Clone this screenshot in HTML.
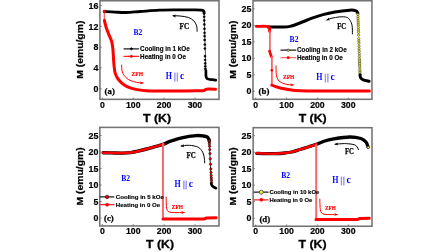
<!DOCTYPE html>
<html><head><meta charset="utf-8"><style>
html,body{margin:0;padding:0;background:#fff;}
body{width:448px;height:252px;overflow:hidden;}
svg{display:block;filter:blur(0.3px);}
</style></head><body>
<svg width="448" height="252" viewBox="0 0 448 252">
<rect x="99.95" y="0.75" width="119.05" height="98.60" fill="none" stroke="#737373" stroke-width="1.55"/>
<line x1="102.40" y1="99.35" x2="102.40" y2="97.55" stroke="#737373" stroke-width="0.9"/>
<text x="102.40" y="107.5" font-family="'Liberation Sans', Arial, sans-serif" font-weight="bold" font-style="normal" font-size="8.7" fill="#000" text-anchor="middle" stroke="#000" stroke-width="0.2">0</text>
<line x1="133.25" y1="99.35" x2="133.25" y2="97.55" stroke="#737373" stroke-width="0.9"/>
<text x="133.25" y="107.5" font-family="'Liberation Sans', Arial, sans-serif" font-weight="bold" font-style="normal" font-size="8.7" fill="#000" text-anchor="middle" stroke="#000" stroke-width="0.2">100</text>
<line x1="164.10" y1="99.35" x2="164.10" y2="97.55" stroke="#737373" stroke-width="0.9"/>
<text x="164.10" y="107.5" font-family="'Liberation Sans', Arial, sans-serif" font-weight="bold" font-style="normal" font-size="8.7" fill="#000" text-anchor="middle" stroke="#000" stroke-width="0.2">200</text>
<line x1="194.95" y1="99.35" x2="194.95" y2="97.55" stroke="#737373" stroke-width="0.9"/>
<text x="194.95" y="107.5" font-family="'Liberation Sans', Arial, sans-serif" font-weight="bold" font-style="normal" font-size="8.7" fill="#000" text-anchor="middle" stroke="#000" stroke-width="0.2">300</text>
<line x1="99.95" y1="88.80" x2="101.75" y2="88.80" stroke="#737373" stroke-width="0.9"/>
<text x="98.4" y="91.90" font-family="'Liberation Sans', Arial, sans-serif" font-weight="bold" font-style="normal" font-size="9.5" fill="#000" text-anchor="end" textLength="4.95" lengthAdjust="spacingAndGlyphs" stroke="#000" stroke-width="0.2">0</text>
<line x1="99.95" y1="68.00" x2="101.75" y2="68.00" stroke="#737373" stroke-width="0.9"/>
<text x="98.4" y="71.10" font-family="'Liberation Sans', Arial, sans-serif" font-weight="bold" font-style="normal" font-size="9.5" fill="#000" text-anchor="end" textLength="4.95" lengthAdjust="spacingAndGlyphs" stroke="#000" stroke-width="0.2">4</text>
<line x1="99.95" y1="47.20" x2="101.75" y2="47.20" stroke="#737373" stroke-width="0.9"/>
<text x="98.4" y="50.30" font-family="'Liberation Sans', Arial, sans-serif" font-weight="bold" font-style="normal" font-size="9.5" fill="#000" text-anchor="end" textLength="4.95" lengthAdjust="spacingAndGlyphs" stroke="#000" stroke-width="0.2">8</text>
<line x1="99.95" y1="26.40" x2="101.75" y2="26.40" stroke="#737373" stroke-width="0.9"/>
<text x="98.4" y="29.50" font-family="'Liberation Sans', Arial, sans-serif" font-weight="bold" font-style="normal" font-size="9.5" fill="#000" text-anchor="end" textLength="9.90" lengthAdjust="spacingAndGlyphs" stroke="#000" stroke-width="0.2">12</text>
<line x1="99.95" y1="5.60" x2="101.75" y2="5.60" stroke="#737373" stroke-width="0.9"/>
<text x="98.4" y="8.70" font-family="'Liberation Sans', Arial, sans-serif" font-weight="bold" font-style="normal" font-size="9.5" fill="#000" text-anchor="end" textLength="9.90" lengthAdjust="spacingAndGlyphs" stroke="#000" stroke-width="0.2">16</text>
<text transform="translate(79.6,49.75) rotate(-90)" x="0" y="3.37" font-family="'Liberation Sans', Arial, sans-serif" font-weight="bold" font-size="9.8" text-anchor="middle" textLength="58.2" lengthAdjust="spacingAndGlyphs" stroke="#000" stroke-width="0.25">M (emu/gm)</text>
<text x="143.0" y="121.6" font-family="'Liberation Sans', Arial, sans-serif" font-weight="bold" font-style="normal" font-size="11.8" fill="#000" text-anchor="start" textLength="28.0" lengthAdjust="spacingAndGlyphs" stroke="#000" stroke-width="0.3">T (K)</text>
<path d="M104.40,11.50 C106.17,11.60 111.40,11.93 115.00,12.10 C118.60,12.27 121.83,12.60 126.00,12.50 C130.17,12.40 134.50,11.90 140.00,11.50 C145.50,11.10 153.17,10.38 159.00,10.10 C164.83,9.82 168.83,9.83 175.00,9.80 C181.17,9.77 191.58,9.83 196.00,9.90 C200.42,9.97 200.27,10.07 201.50,10.20 C202.73,10.33 202.98,10.43 203.40,10.70 C203.82,10.97 203.88,11.38 204.00,11.80 C204.12,12.22 204.08,12.97 204.10,13.20" fill="none" stroke="#000" stroke-width="2.8" stroke-linecap="round" stroke-linejoin="round" />
<path d="M204.10,12.00 L205.90,72.00" fill="none" stroke="#000" stroke-width="0.7" stroke-linecap="round" stroke-linejoin="round" />
<circle cx="204.11" cy="13.50" r="1.15" fill="#000" stroke="#000" stroke-width="0.3"/>
<circle cx="204.18" cy="16.80" r="1.15" fill="#000" stroke="#000" stroke-width="0.3"/>
<circle cx="204.26" cy="20.50" r="1.15" fill="#000" stroke="#000" stroke-width="0.3"/>
<circle cx="204.35" cy="24.50" r="1.15" fill="#000" stroke="#000" stroke-width="0.3"/>
<circle cx="204.44" cy="28.80" r="1.15" fill="#000" stroke="#000" stroke-width="0.3"/>
<circle cx="204.52" cy="32.80" r="1.15" fill="#000" stroke="#000" stroke-width="0.3"/>
<circle cx="204.60" cy="36.20" r="1.15" fill="#000" stroke="#000" stroke-width="0.3"/>
<circle cx="204.68" cy="40.00" r="1.15" fill="#000" stroke="#000" stroke-width="0.3"/>
<circle cx="204.78" cy="44.60" r="1.15" fill="#000" stroke="#000" stroke-width="0.3"/>
<circle cx="204.86" cy="48.60" r="1.15" fill="#000" stroke="#000" stroke-width="0.3"/>
<circle cx="205.03" cy="56.20" r="1.15" fill="#000" stroke="#000" stroke-width="0.3"/>
<circle cx="205.11" cy="59.90" r="1.15" fill="#000" stroke="#000" stroke-width="0.3"/>
<circle cx="205.18" cy="63.40" r="1.15" fill="#000" stroke="#000" stroke-width="0.3"/>
<circle cx="205.24" cy="66.40" r="1.15" fill="#000" stroke="#000" stroke-width="0.3"/>
<circle cx="205.30" cy="68.90" r="1.15" fill="#000" stroke="#000" stroke-width="0.3"/>
<path d="M205.90,70.50 C205.92,71.42 205.85,74.70 206.00,76.00 C206.15,77.30 206.30,77.75 206.80,78.30 C207.30,78.85 208.05,79.07 209.00,79.30 C209.95,79.53 211.37,79.57 212.50,79.70 C213.63,79.83 215.25,80.03 215.80,80.10" fill="none" stroke="#000" stroke-width="2.7" stroke-linecap="round" stroke-linejoin="round" />
<path d="M104.40,11.50 L104.40,20.50" fill="none" stroke="#f46a6a" stroke-width="1.5" stroke-linecap="round" stroke-linejoin="round" />
<circle cx="104.40" cy="11.50" r="1.5" fill="#ff0000" stroke="#ff0000" stroke-width="0.2"/>
<path d="M104.40,20.40 C104.68,21.53 105.38,24.90 106.10,27.20 C106.82,29.50 107.83,32.02 108.70,34.20 C109.57,36.38 110.65,38.27 111.30,40.30 C111.95,42.33 112.30,44.45 112.60,46.40 C112.90,48.35 112.88,49.07 113.10,52.00 C113.32,54.93 113.58,60.58 113.90,64.00 C114.22,67.42 114.45,70.23 115.00,72.50 C115.55,74.77 116.20,75.95 117.20,77.60 C118.20,79.25 119.37,80.90 121.00,82.40 C122.63,83.90 124.55,85.43 127.00,86.60 C129.45,87.77 132.53,88.72 135.70,89.40 C138.87,90.08 141.95,90.45 146.00,90.70 C150.05,90.95 155.00,90.85 160.00,90.90 C165.00,90.95 170.00,91.02 176.00,91.00 C182.00,90.98 191.83,90.83 196.00,90.80 C200.17,90.77 199.75,90.82 201.00,90.80 C202.25,90.78 202.83,90.85 203.50,90.70 C204.17,90.55 204.50,90.15 205.00,89.90 C205.50,89.65 205.67,89.33 206.50,89.20 C207.33,89.07 208.48,89.10 210.00,89.10 C211.52,89.10 214.67,89.18 215.60,89.20" fill="none" stroke="#ff0000" stroke-width="3.0" stroke-linecap="round" stroke-linejoin="round" />
<path d="M121.60,65.00 C121.68,66.02 121.65,69.33 122.10,71.10 C122.55,72.87 123.28,74.22 124.30,75.60 C125.32,76.98 126.62,78.38 128.20,79.40 C129.78,80.42 131.95,81.13 133.80,81.70 C135.65,82.27 137.78,82.60 139.30,82.80 C140.82,83.00 142.30,82.88 142.90,82.90" fill="none" stroke="#ff0000" stroke-width="1.0" stroke-linecap="round" stroke-linejoin="round" />
<path d="M143.80,82.92 L139.96,84.32 L140.90,82.84 L140.04,81.32 Z" fill="#ff0000"/>
<path d="M197.10,31.30 C197.02,30.38 197.15,27.55 196.60,25.80 C196.05,24.05 195.20,22.20 193.80,20.80 C192.40,19.40 190.50,18.20 188.20,17.40 C185.90,16.60 182.52,16.27 180.00,16.00 C177.48,15.73 174.25,15.83 173.10,15.80" fill="none" stroke="#000" stroke-width="1.0" stroke-linecap="round" stroke-linejoin="round" />
<path d="M172.20,15.77 L176.04,14.38 L175.10,15.86 L175.96,17.38 Z" fill="#000"/>
<path d="M124.00,48.80 L138.60,48.80" fill="none" stroke="#1e1e1e" stroke-width="1.25" stroke-linecap="round" stroke-linejoin="round" />
<circle cx="131.40" cy="48.80" r="1.05" fill="#000" stroke="#000" stroke-width="0.65"/>
<path d="M124.00,56.40 L138.60,56.40" fill="none" stroke="#ff2020" stroke-width="1.25" stroke-linecap="round" stroke-linejoin="round" />
<circle cx="131.40" cy="56.40" r="1.3" fill="#ff0000" stroke="#ff0000" stroke-width="0.2"/>
<text x="140.1" y="50.8" font-family="'Liberation Sans', Arial, sans-serif" font-weight="bold" font-style="normal" font-size="6.3" fill="#000" text-anchor="start" stroke="#000" stroke-width="0.15">Cooling in 1 kOe</text>
<text x="140.1" y="58.5" font-family="'Liberation Sans', Arial, sans-serif" font-weight="bold" font-style="normal" font-size="6.3" fill="#000" text-anchor="start" stroke="#000" stroke-width="0.15">Heating in 0 Oe</text>
<text x="133.5" y="34.8" font-family="'Liberation Serif', 'Times New Roman', serif" font-weight="bold" font-style="normal" font-size="7.6" fill="#0000ff" text-anchor="start" >B2</text>
<text x="165.70" y="78.6" font-family="'Liberation Serif', 'Times New Roman', serif" font-weight="bold" font-style="normal" font-size="9.4" fill="#0000ff" text-anchor="start" textLength="6.2" lengthAdjust="spacingAndGlyphs" >H</text>
<text x="174.12" y="78.60" font-family="'Liberation Serif', 'Times New Roman', serif" font-weight="normal" font-size="8.8" fill="#0000ff" stroke="#0000ff" stroke-width="0.9" opacity="0.42" letter-spacing="0.64">||</text>
<text x="180.00" y="78.6" font-family="'Liberation Serif', 'Times New Roman', serif" font-weight="bold" font-style="normal" font-size="9.6" fill="#0000ff" text-anchor="start" >c</text>
<text x="131.5" y="75.8" font-family="'Liberation Serif', 'Times New Roman', serif" font-weight="bold" font-style="normal" font-size="7.0" fill="#ff0000" text-anchor="start" textLength="11.6" lengthAdjust="spacingAndGlyphs" stroke="#f00" stroke-width="0.15">ZFH</text>
<text x="179.6" y="28.9" font-family="'Liberation Serif', 'Times New Roman', serif" font-weight="bold" font-style="normal" font-size="7.5" fill="#000" text-anchor="start" textLength="9.4" lengthAdjust="spacingAndGlyphs" stroke="#000" stroke-width="0.25">FC</text>
<text x="104.6" y="94.1" font-family="'Liberation Serif', 'Times New Roman', serif" font-weight="bold" font-style="normal" font-size="8.8" fill="#000" text-anchor="start" stroke="#000" stroke-width="0.25">(a)</text>
<rect x="253.0" y="0.75" width="118.95" height="98.55" fill="none" stroke="#737373" stroke-width="1.55"/>
<line x1="255.70" y1="99.3" x2="255.70" y2="97.5" stroke="#737373" stroke-width="0.9"/>
<text x="255.70" y="107.5" font-family="'Liberation Sans', Arial, sans-serif" font-weight="bold" font-style="normal" font-size="8.7" fill="#000" text-anchor="middle" stroke="#000" stroke-width="0.2">0</text>
<line x1="286.55" y1="99.3" x2="286.55" y2="97.5" stroke="#737373" stroke-width="0.9"/>
<text x="286.55" y="107.5" font-family="'Liberation Sans', Arial, sans-serif" font-weight="bold" font-style="normal" font-size="8.7" fill="#000" text-anchor="middle" stroke="#000" stroke-width="0.2">100</text>
<line x1="317.40" y1="99.3" x2="317.40" y2="97.5" stroke="#737373" stroke-width="0.9"/>
<text x="317.40" y="107.5" font-family="'Liberation Sans', Arial, sans-serif" font-weight="bold" font-style="normal" font-size="8.7" fill="#000" text-anchor="middle" stroke="#000" stroke-width="0.2">200</text>
<line x1="348.25" y1="99.3" x2="348.25" y2="97.5" stroke="#737373" stroke-width="0.9"/>
<text x="348.25" y="107.5" font-family="'Liberation Sans', Arial, sans-serif" font-weight="bold" font-style="normal" font-size="8.7" fill="#000" text-anchor="middle" stroke="#000" stroke-width="0.2">300</text>
<line x1="253.0" y1="91.30" x2="254.8" y2="91.30" stroke="#737373" stroke-width="0.9"/>
<text x="251.4" y="94.40" font-family="'Liberation Sans', Arial, sans-serif" font-weight="bold" font-style="normal" font-size="9.5" fill="#000" text-anchor="end" textLength="4.95" lengthAdjust="spacingAndGlyphs" stroke="#000" stroke-width="0.2">0</text>
<line x1="253.0" y1="74.80" x2="254.8" y2="74.80" stroke="#737373" stroke-width="0.9"/>
<text x="251.4" y="77.90" font-family="'Liberation Sans', Arial, sans-serif" font-weight="bold" font-style="normal" font-size="9.5" fill="#000" text-anchor="end" textLength="4.95" lengthAdjust="spacingAndGlyphs" stroke="#000" stroke-width="0.2">5</text>
<line x1="253.0" y1="58.30" x2="254.8" y2="58.30" stroke="#737373" stroke-width="0.9"/>
<text x="251.4" y="61.40" font-family="'Liberation Sans', Arial, sans-serif" font-weight="bold" font-style="normal" font-size="9.5" fill="#000" text-anchor="end" textLength="9.90" lengthAdjust="spacingAndGlyphs" stroke="#000" stroke-width="0.2">10</text>
<line x1="253.0" y1="41.80" x2="254.8" y2="41.80" stroke="#737373" stroke-width="0.9"/>
<text x="251.4" y="44.90" font-family="'Liberation Sans', Arial, sans-serif" font-weight="bold" font-style="normal" font-size="9.5" fill="#000" text-anchor="end" textLength="9.90" lengthAdjust="spacingAndGlyphs" stroke="#000" stroke-width="0.2">15</text>
<line x1="253.0" y1="25.30" x2="254.8" y2="25.30" stroke="#737373" stroke-width="0.9"/>
<text x="251.4" y="28.40" font-family="'Liberation Sans', Arial, sans-serif" font-weight="bold" font-style="normal" font-size="9.5" fill="#000" text-anchor="end" textLength="9.90" lengthAdjust="spacingAndGlyphs" stroke="#000" stroke-width="0.2">20</text>
<line x1="253.0" y1="8.80" x2="254.8" y2="8.80" stroke="#737373" stroke-width="0.9"/>
<text x="251.4" y="11.90" font-family="'Liberation Sans', Arial, sans-serif" font-weight="bold" font-style="normal" font-size="9.5" fill="#000" text-anchor="end" textLength="9.90" lengthAdjust="spacingAndGlyphs" stroke="#000" stroke-width="0.2">25</text>
<text transform="translate(232.85,49.75) rotate(-90)" x="0" y="3.37" font-family="'Liberation Sans', Arial, sans-serif" font-weight="bold" font-size="9.8" text-anchor="middle" textLength="58.2" lengthAdjust="spacingAndGlyphs" stroke="#000" stroke-width="0.25">M (emu/gm)</text>
<text x="298.7" y="121.6" font-family="'Liberation Sans', Arial, sans-serif" font-weight="bold" font-style="normal" font-size="11.8" fill="#000" text-anchor="start" textLength="28.0" lengthAdjust="spacingAndGlyphs" stroke="#000" stroke-width="0.3">T (K)</text>
<path d="M268.00,26.90 C270.28,26.92 278.03,27.08 281.70,27.00 C285.37,26.92 286.95,27.07 290.00,26.40 C293.05,25.73 296.33,24.37 300.00,23.00 C303.67,21.63 308.17,19.60 312.00,18.20 C315.83,16.80 319.17,15.63 323.00,14.60 C326.83,13.57 330.55,12.73 335.00,12.00 C339.45,11.27 346.45,10.47 349.70,10.20 C352.95,9.93 353.30,10.22 354.50,10.40 C355.70,10.58 356.33,10.80 356.90,11.30 C357.47,11.80 357.73,13.05 357.90,13.40" fill="none" stroke="#000" stroke-width="3.0" stroke-linecap="round" stroke-linejoin="round" />
<circle cx="357.91" cy="14.40" r="1.2" fill="#f5ea3c" stroke="#1a1a1a" stroke-width="0.45"/>
<circle cx="357.99" cy="16.60" r="1.2" fill="#f5ea3c" stroke="#1a1a1a" stroke-width="0.45"/>
<circle cx="358.06" cy="18.70" r="1.2" fill="#f5ea3c" stroke="#1a1a1a" stroke-width="0.45"/>
<circle cx="358.14" cy="20.90" r="1.2" fill="#f5ea3c" stroke="#1a1a1a" stroke-width="0.45"/>
<circle cx="358.21" cy="23.00" r="1.2" fill="#f5ea3c" stroke="#1a1a1a" stroke-width="0.45"/>
<circle cx="358.28" cy="25.10" r="1.2" fill="#f5ea3c" stroke="#1a1a1a" stroke-width="0.45"/>
<circle cx="358.37" cy="27.60" r="1.2" fill="#f5ea3c" stroke="#1a1a1a" stroke-width="0.45"/>
<circle cx="358.45" cy="30.10" r="1.2" fill="#f5ea3c" stroke="#1a1a1a" stroke-width="0.45"/>
<circle cx="358.53" cy="32.30" r="1.2" fill="#f5ea3c" stroke="#1a1a1a" stroke-width="0.45"/>
<circle cx="358.63" cy="35.10" r="1.2" fill="#f5ea3c" stroke="#1a1a1a" stroke-width="0.45"/>
<circle cx="358.75" cy="38.70" r="1.2" fill="#f5ea3c" stroke="#1a1a1a" stroke-width="0.45"/>
<circle cx="358.83" cy="41.00" r="1.2" fill="#f5ea3c" stroke="#1a1a1a" stroke-width="0.45"/>
<circle cx="358.91" cy="43.30" r="1.2" fill="#f5ea3c" stroke="#1a1a1a" stroke-width="0.45"/>
<circle cx="359.01" cy="46.20" r="1.2" fill="#f5ea3c" stroke="#1a1a1a" stroke-width="0.45"/>
<circle cx="359.09" cy="48.70" r="1.2" fill="#f5ea3c" stroke="#1a1a1a" stroke-width="0.45"/>
<circle cx="359.18" cy="51.20" r="1.2" fill="#f5ea3c" stroke="#1a1a1a" stroke-width="0.45"/>
<circle cx="359.27" cy="53.70" r="1.2" fill="#f5ea3c" stroke="#1a1a1a" stroke-width="0.45"/>
<circle cx="359.35" cy="56.20" r="1.2" fill="#f5ea3c" stroke="#1a1a1a" stroke-width="0.45"/>
<circle cx="359.44" cy="58.70" r="1.2" fill="#f5ea3c" stroke="#1a1a1a" stroke-width="0.45"/>
<circle cx="359.49" cy="60.30" r="1.2" fill="#f5ea3c" stroke="#1a1a1a" stroke-width="0.45"/>
<circle cx="359.55" cy="62.00" r="1.2" fill="#f5ea3c" stroke="#1a1a1a" stroke-width="0.45"/>
<circle cx="359.61" cy="63.70" r="1.2" fill="#f5ea3c" stroke="#1a1a1a" stroke-width="0.45"/>
<circle cx="359.67" cy="65.30" r="1.2" fill="#f5ea3c" stroke="#1a1a1a" stroke-width="0.45"/>
<circle cx="359.72" cy="67.00" r="1.2" fill="#f5ea3c" stroke="#1a1a1a" stroke-width="0.45"/>
<circle cx="359.81" cy="69.50" r="1.2" fill="#f5ea3c" stroke="#1a1a1a" stroke-width="0.45"/>
<circle cx="359.87" cy="71.20" r="1.2" fill="#f5ea3c" stroke="#1a1a1a" stroke-width="0.45"/>
<circle cx="359.92" cy="72.80" r="1.2" fill="#f5ea3c" stroke="#1a1a1a" stroke-width="0.45"/>
<circle cx="359.98" cy="74.50" r="1.2" fill="#f5ea3c" stroke="#1a1a1a" stroke-width="0.45"/>
<path d="M360.10,75.00 C360.18,75.47 360.08,77.00 360.60,77.80 C361.12,78.60 361.78,79.22 363.20,79.80 C364.62,80.38 368.12,81.05 369.10,81.30" fill="none" stroke="#000" stroke-width="3.0" stroke-linecap="round" stroke-linejoin="round" />
<path d="M256.20,26.30 C257.97,26.30 264.73,26.22 266.80,26.30 C268.87,26.38 268.17,26.48 268.60,26.80 C269.03,27.12 269.22,27.47 269.40,28.20 C269.58,28.93 269.65,30.70 269.70,31.20" fill="none" stroke="#ff0000" stroke-width="2.8" stroke-linecap="round" stroke-linejoin="round" />
<circle cx="269.80" cy="31.40" r="1.3" fill="#ff0000" stroke="#ff0000" stroke-width="0.2"/>
<path d="M269.90,31.40 L269.90,51.00" fill="none" stroke="#f46a6a" stroke-width="1.8" stroke-linecap="round" stroke-linejoin="round" />
<path d="M269.50,51.00 C269.68,51.58 270.25,53.50 270.60,54.50 C270.95,55.50 271.43,56.58 271.60,57.00" fill="none" stroke="#ff0000" stroke-width="2.6" stroke-linecap="round" stroke-linejoin="round" />
<path d="M271.90,57.00 L271.90,85.00" fill="none" stroke="#f46a6a" stroke-width="1.8" stroke-linecap="round" stroke-linejoin="round" />
<circle cx="271.80" cy="70.20" r="1.2" fill="#ff0000" stroke="#ff0000" stroke-width="0.2"/>
<path d="M271.80,85.20 C272.80,85.53 275.77,86.60 277.80,87.20 C279.83,87.80 281.68,88.32 284.00,88.80 C286.32,89.28 289.03,89.78 291.70,90.10 C294.37,90.42 295.28,90.57 300.00,90.70 C304.72,90.83 308.43,90.87 320.00,90.90 C331.57,90.93 361.17,90.90 369.40,90.90" fill="none" stroke="#ff0000" stroke-width="3.0" stroke-linecap="round" stroke-linejoin="round" />
<path d="M276.00,65.90 C276.05,67.28 275.97,71.88 276.30,74.20 C276.63,76.52 276.98,78.32 278.00,79.80 C279.02,81.28 280.73,82.30 282.40,83.10 C284.07,83.90 286.20,84.28 288.00,84.60 C289.80,84.92 292.33,84.93 293.20,85.00" fill="none" stroke="#ff0000" stroke-width="1.0" stroke-linecap="round" stroke-linejoin="round" />
<path d="M294.10,85.07 L290.19,86.27 L291.21,84.85 L290.42,83.28 Z" fill="#ff0000"/>
<path d="M352.40,33.90 C352.35,32.52 352.50,27.87 352.10,25.60 C351.70,23.33 350.90,21.68 350.00,20.30 C349.10,18.92 348.37,17.87 346.70,17.30 C345.03,16.73 342.60,16.72 340.00,16.90 C337.40,17.08 333.27,17.90 331.10,18.40 C328.93,18.90 327.68,19.65 327.00,19.90" fill="none" stroke="#000" stroke-width="1.0" stroke-linecap="round" stroke-linejoin="round" />
<path d="M326.15,20.21 L329.21,17.49 L328.88,19.21 L330.24,20.31 Z" fill="#000"/>
<path d="M281.00,50.20 L295.70,50.20" fill="none" stroke="#1e1e1e" stroke-width="1.25" stroke-linecap="round" stroke-linejoin="round" />
<circle cx="288.20" cy="50.20" r="1.15" fill="#f5ea3c" stroke="#1a1a50" stroke-width="0.65"/>
<path d="M281.00,57.70 L295.70,57.70" fill="none" stroke="#ff6a6a" stroke-width="1.25" stroke-linecap="round" stroke-linejoin="round" />
<circle cx="288.20" cy="57.70" r="1.35" fill="#ff0000" stroke="#ff0000" stroke-width="0.2"/>
<text x="297.0" y="51.9" font-family="'Liberation Sans', Arial, sans-serif" font-weight="bold" font-style="normal" font-size="6.3" fill="#000" text-anchor="start" stroke="#000" stroke-width="0.15">Cooling in 2 kOe</text>
<text x="297.0" y="59.6" font-family="'Liberation Sans', Arial, sans-serif" font-weight="bold" font-style="normal" font-size="6.3" fill="#000" text-anchor="start" stroke="#000" stroke-width="0.15">Heating in 0 Oe</text>
<text x="289.6" y="42.2" font-family="'Liberation Serif', 'Times New Roman', serif" font-weight="bold" font-style="normal" font-size="7.6" fill="#0000ff" text-anchor="start" >B2</text>
<text x="316.20" y="79.5" font-family="'Liberation Serif', 'Times New Roman', serif" font-weight="bold" font-style="normal" font-size="9.4" fill="#0000ff" text-anchor="start" textLength="6.2" lengthAdjust="spacingAndGlyphs" >H</text>
<text x="324.62" y="79.50" font-family="'Liberation Serif', 'Times New Roman', serif" font-weight="normal" font-size="8.8" fill="#0000ff" stroke="#0000ff" stroke-width="0.9" opacity="0.42" letter-spacing="0.64">||</text>
<text x="330.50" y="79.5" font-family="'Liberation Serif', 'Times New Roman', serif" font-weight="bold" font-style="normal" font-size="9.6" fill="#0000ff" text-anchor="start" >c</text>
<text x="283.0" y="78.7" font-family="'Liberation Serif', 'Times New Roman', serif" font-weight="bold" font-style="normal" font-size="7.0" fill="#ff0000" text-anchor="start" textLength="11.4" lengthAdjust="spacingAndGlyphs" stroke="#f00" stroke-width="0.15">ZFH</text>
<text x="337.2" y="28.8" font-family="'Liberation Serif', 'Times New Roman', serif" font-weight="bold" font-style="normal" font-size="7.5" fill="#000" text-anchor="start" textLength="8.8" lengthAdjust="spacingAndGlyphs" stroke="#000" stroke-width="0.25">FC</text>
<text x="258.6" y="94.3" font-family="'Liberation Serif', 'Times New Roman', serif" font-weight="bold" font-style="normal" font-size="8.8" fill="#000" text-anchor="start" stroke="#000" stroke-width="0.25">(b)</text>
<rect x="99.8" y="127.4" width="119.20" height="98.55" fill="none" stroke="#737373" stroke-width="1.55"/>
<line x1="102.40" y1="225.95" x2="102.40" y2="224.14999999999998" stroke="#737373" stroke-width="0.9"/>
<text x="102.40" y="233.9" font-family="'Liberation Sans', Arial, sans-serif" font-weight="bold" font-style="normal" font-size="8.7" fill="#000" text-anchor="middle" stroke="#000" stroke-width="0.2">0</text>
<line x1="133.25" y1="225.95" x2="133.25" y2="224.14999999999998" stroke="#737373" stroke-width="0.9"/>
<text x="133.25" y="233.9" font-family="'Liberation Sans', Arial, sans-serif" font-weight="bold" font-style="normal" font-size="8.7" fill="#000" text-anchor="middle" stroke="#000" stroke-width="0.2">100</text>
<line x1="164.10" y1="225.95" x2="164.10" y2="224.14999999999998" stroke="#737373" stroke-width="0.9"/>
<text x="164.10" y="233.9" font-family="'Liberation Sans', Arial, sans-serif" font-weight="bold" font-style="normal" font-size="8.7" fill="#000" text-anchor="middle" stroke="#000" stroke-width="0.2">200</text>
<line x1="194.95" y1="225.95" x2="194.95" y2="224.14999999999998" stroke="#737373" stroke-width="0.9"/>
<text x="194.95" y="233.9" font-family="'Liberation Sans', Arial, sans-serif" font-weight="bold" font-style="normal" font-size="8.7" fill="#000" text-anchor="middle" stroke="#000" stroke-width="0.2">300</text>
<line x1="99.8" y1="218.00" x2="101.6" y2="218.00" stroke="#737373" stroke-width="0.9"/>
<text x="98.4" y="221.10" font-family="'Liberation Sans', Arial, sans-serif" font-weight="bold" font-style="normal" font-size="9.5" fill="#000" text-anchor="end" textLength="4.95" lengthAdjust="spacingAndGlyphs" stroke="#000" stroke-width="0.2">0</text>
<line x1="99.8" y1="201.50" x2="101.6" y2="201.50" stroke="#737373" stroke-width="0.9"/>
<text x="98.4" y="204.60" font-family="'Liberation Sans', Arial, sans-serif" font-weight="bold" font-style="normal" font-size="9.5" fill="#000" text-anchor="end" textLength="4.95" lengthAdjust="spacingAndGlyphs" stroke="#000" stroke-width="0.2">5</text>
<line x1="99.8" y1="185.00" x2="101.6" y2="185.00" stroke="#737373" stroke-width="0.9"/>
<text x="98.4" y="188.10" font-family="'Liberation Sans', Arial, sans-serif" font-weight="bold" font-style="normal" font-size="9.5" fill="#000" text-anchor="end" textLength="9.90" lengthAdjust="spacingAndGlyphs" stroke="#000" stroke-width="0.2">10</text>
<line x1="99.8" y1="168.50" x2="101.6" y2="168.50" stroke="#737373" stroke-width="0.9"/>
<text x="98.4" y="171.60" font-family="'Liberation Sans', Arial, sans-serif" font-weight="bold" font-style="normal" font-size="9.5" fill="#000" text-anchor="end" textLength="9.90" lengthAdjust="spacingAndGlyphs" stroke="#000" stroke-width="0.2">15</text>
<line x1="99.8" y1="152.00" x2="101.6" y2="152.00" stroke="#737373" stroke-width="0.9"/>
<text x="98.4" y="155.10" font-family="'Liberation Sans', Arial, sans-serif" font-weight="bold" font-style="normal" font-size="9.5" fill="#000" text-anchor="end" textLength="9.90" lengthAdjust="spacingAndGlyphs" stroke="#000" stroke-width="0.2">20</text>
<line x1="99.8" y1="135.50" x2="101.6" y2="135.50" stroke="#737373" stroke-width="0.9"/>
<text x="98.4" y="138.60" font-family="'Liberation Sans', Arial, sans-serif" font-weight="bold" font-style="normal" font-size="9.5" fill="#000" text-anchor="end" textLength="9.90" lengthAdjust="spacingAndGlyphs" stroke="#000" stroke-width="0.2">25</text>
<text transform="translate(79.6,176.35) rotate(-90)" x="0" y="3.37" font-family="'Liberation Sans', Arial, sans-serif" font-weight="bold" font-size="9.8" text-anchor="middle" textLength="58.2" lengthAdjust="spacingAndGlyphs" stroke="#000" stroke-width="0.25">M (emu/gm)</text>
<text x="146.1" y="247.9" font-family="'Liberation Sans', Arial, sans-serif" font-weight="bold" font-style="normal" font-size="11.8" fill="#000" text-anchor="start" textLength="28.0" lengthAdjust="spacingAndGlyphs" stroke="#000" stroke-width="0.3">T (K)</text>
<path d="M103.20,152.70 C104.67,152.73 108.73,152.83 112.00,152.90 C115.27,152.97 119.68,153.15 122.80,153.10 C125.92,153.05 128.17,152.92 130.70,152.60 C133.23,152.28 135.35,151.80 138.00,151.20 C140.65,150.60 143.77,149.77 146.60,149.00 C149.43,148.23 152.15,147.42 155.00,146.60 C157.85,145.78 161.20,144.97 163.70,144.10 C166.20,143.23 166.98,142.45 170.00,141.40 C173.02,140.35 177.45,138.77 181.80,137.80 C186.15,136.83 192.48,135.90 196.10,135.60 C199.72,135.30 201.65,135.77 203.50,136.00 C205.35,136.23 206.30,136.45 207.20,137.00 C208.10,137.55 208.55,138.55 208.90,139.30 C209.25,140.05 209.23,141.13 209.30,141.50" fill="none" stroke="#000" stroke-width="3.4" stroke-linecap="round" stroke-linejoin="round" />
<path d="M209.20,141.00 L211.30,184.00" fill="none" stroke="#000" stroke-width="0.8" stroke-linecap="round" stroke-linejoin="round" />
<circle cx="209.30" cy="141.00" r="1.2" fill="#ff0000" stroke="#111" stroke-width="0.55"/>
<circle cx="209.45" cy="143.80" r="1.2" fill="#ff0000" stroke="#111" stroke-width="0.55"/>
<circle cx="209.58" cy="146.20" r="1.2" fill="#ff0000" stroke="#111" stroke-width="0.55"/>
<circle cx="209.77" cy="149.60" r="1.2" fill="#ff0000" stroke="#111" stroke-width="0.55"/>
<circle cx="209.99" cy="153.60" r="1.2" fill="#ff0000" stroke="#111" stroke-width="0.55"/>
<circle cx="210.27" cy="158.80" r="1.2" fill="#ff0000" stroke="#111" stroke-width="0.55"/>
<circle cx="210.57" cy="164.20" r="1.2" fill="#ff0000" stroke="#111" stroke-width="0.55"/>
<circle cx="210.83" cy="168.90" r="1.2" fill="#ff0000" stroke="#111" stroke-width="0.55"/>
<circle cx="211.03" cy="172.50" r="1.2" fill="#ff0000" stroke="#111" stroke-width="0.55"/>
<circle cx="211.19" cy="175.50" r="1.2" fill="#ff0000" stroke="#111" stroke-width="0.55"/>
<circle cx="211.32" cy="177.90" r="1.2" fill="#ff0000" stroke="#111" stroke-width="0.55"/>
<circle cx="211.45" cy="180.20" r="1.2" fill="#ff0000" stroke="#111" stroke-width="0.55"/>
<circle cx="211.58" cy="182.60" r="1.2" fill="#ff0000" stroke="#111" stroke-width="0.55"/>
<path d="M211.20,183.50 C211.33,183.85 211.57,184.98 212.00,185.60 C212.43,186.22 213.13,186.77 213.80,187.20 C214.47,187.63 215.63,188.03 216.00,188.20" fill="none" stroke="#000" stroke-width="2.6" stroke-linecap="round" stroke-linejoin="round" />
<path d="M103.20,152.70 C104.67,152.73 108.73,152.83 112.00,152.90 C115.27,152.97 119.68,153.15 122.80,153.10 C125.92,153.05 128.17,152.92 130.70,152.60 C133.23,152.28 135.35,151.80 138.00,151.20 C140.65,150.60 143.77,149.77 146.60,149.00 C149.43,148.23 152.15,147.42 155.00,146.60 C157.85,145.78 162.25,144.52 163.70,144.10" fill="none" stroke="#ff0000" stroke-width="2.5" stroke-linecap="round" stroke-linejoin="round" />
<path d="M162.95,144.00 L162.95,218.60" fill="none" stroke="#f46a6a" stroke-width="2.0" stroke-linecap="round" stroke-linejoin="round" />
<path d="M163.00,218.90 L204.50,218.90 L206.50,217.90 L216.10,217.70" fill="none" stroke="#ff0000" stroke-width="3.0" stroke-linecap="round" stroke-linejoin="round" />
<path d="M166.10,197.00 C166.13,198.17 166.22,202.08 166.30,204.00 C166.38,205.92 166.28,207.25 166.60,208.50 C166.92,209.75 167.30,210.83 168.20,211.50 C169.10,212.17 170.37,212.32 172.00,212.50 C173.63,212.68 175.98,212.58 178.00,212.60 C180.02,212.62 183.08,212.60 184.10,212.60" fill="none" stroke="#ff0000" stroke-width="1.0" stroke-linecap="round" stroke-linejoin="round" />
<path d="M185.00,212.60 L181.20,214.10 L182.10,212.60 L181.20,211.10 Z" fill="#ff0000"/>
<path d="M204.70,162.80 C204.63,161.97 204.63,159.57 204.30,157.80 C203.97,156.03 203.72,153.97 202.70,152.20 C201.68,150.43 200.43,148.35 198.20,147.20 C195.97,146.05 192.12,145.50 189.30,145.30 C186.48,145.10 182.63,145.88 181.30,146.00" fill="none" stroke="#000" stroke-width="1.0" stroke-linecap="round" stroke-linejoin="round" />
<path d="M180.40,146.08 L184.06,144.25 L183.29,145.83 L184.32,147.24 Z" fill="#000"/>
<path d="M100.00,196.90 L113.90,196.90" fill="none" stroke="#1e1e1e" stroke-width="1.25" stroke-linecap="round" stroke-linejoin="round" />
<circle cx="107.10" cy="196.90" r="1.75" fill="#ff0000" stroke="#111" stroke-width="0.65"/>
<path d="M100.00,204.70 L113.90,204.70" fill="none" stroke="#ff2020" stroke-width="1.25" stroke-linecap="round" stroke-linejoin="round" />
<circle cx="107.10" cy="204.70" r="1.7" fill="#ff0000" stroke="#ff0000" stroke-width="0.2"/>
<text x="115.8" y="199.2" font-family="'Liberation Sans', Arial, sans-serif" font-weight="bold" font-style="normal" font-size="6.1" fill="#000" text-anchor="start" stroke="#000" stroke-width="0.15">Cooling in 5 kOe</text>
<text x="115.8" y="206.9" font-family="'Liberation Sans', Arial, sans-serif" font-weight="bold" font-style="normal" font-size="6.1" fill="#000" text-anchor="start" stroke="#000" stroke-width="0.15">Heating in 0 Oe</text>
<text x="121.2" y="180.5" font-family="'Liberation Serif', 'Times New Roman', serif" font-weight="bold" font-style="normal" font-size="7.6" fill="#0000ff" text-anchor="start" >B2</text>
<text x="174.50" y="187.0" font-family="'Liberation Serif', 'Times New Roman', serif" font-weight="bold" font-style="normal" font-size="9.4" fill="#0000ff" text-anchor="start" textLength="6.2" lengthAdjust="spacingAndGlyphs" >H</text>
<text x="182.92" y="187.00" font-family="'Liberation Serif', 'Times New Roman', serif" font-weight="normal" font-size="8.8" fill="#0000ff" stroke="#0000ff" stroke-width="0.9" opacity="0.42" letter-spacing="0.64">||</text>
<text x="188.80" y="187.0" font-family="'Liberation Serif', 'Times New Roman', serif" font-weight="bold" font-style="normal" font-size="9.6" fill="#0000ff" text-anchor="start" >c</text>
<text x="171.8" y="208.7" font-family="'Liberation Serif', 'Times New Roman', serif" font-weight="bold" font-style="normal" font-size="7.0" fill="#ff0000" text-anchor="start" textLength="11.2" lengthAdjust="spacingAndGlyphs" stroke="#f00" stroke-width="0.15">ZFH</text>
<text x="186.5" y="158.3" font-family="'Liberation Serif', 'Times New Roman', serif" font-weight="bold" font-style="normal" font-size="7.5" fill="#000" text-anchor="start" textLength="9.2" lengthAdjust="spacingAndGlyphs" stroke="#000" stroke-width="0.25">FC</text>
<text x="104.0" y="221.1" font-family="'Liberation Serif', 'Times New Roman', serif" font-weight="bold" font-style="normal" font-size="8.8" fill="#000" text-anchor="start" stroke="#000" stroke-width="0.25">(c)</text>
<rect x="253.15" y="127.7" width="118.85" height="98.55" fill="none" stroke="#737373" stroke-width="1.55"/>
<line x1="255.70" y1="226.25" x2="255.70" y2="224.45" stroke="#737373" stroke-width="0.9"/>
<text x="255.70" y="234.2" font-family="'Liberation Sans', Arial, sans-serif" font-weight="bold" font-style="normal" font-size="8.7" fill="#000" text-anchor="middle" stroke="#000" stroke-width="0.2">0</text>
<line x1="286.55" y1="226.25" x2="286.55" y2="224.45" stroke="#737373" stroke-width="0.9"/>
<text x="286.55" y="234.2" font-family="'Liberation Sans', Arial, sans-serif" font-weight="bold" font-style="normal" font-size="8.7" fill="#000" text-anchor="middle" stroke="#000" stroke-width="0.2">100</text>
<line x1="317.40" y1="226.25" x2="317.40" y2="224.45" stroke="#737373" stroke-width="0.9"/>
<text x="317.40" y="234.2" font-family="'Liberation Sans', Arial, sans-serif" font-weight="bold" font-style="normal" font-size="8.7" fill="#000" text-anchor="middle" stroke="#000" stroke-width="0.2">200</text>
<line x1="348.25" y1="226.25" x2="348.25" y2="224.45" stroke="#737373" stroke-width="0.9"/>
<text x="348.25" y="234.2" font-family="'Liberation Sans', Arial, sans-serif" font-weight="bold" font-style="normal" font-size="8.7" fill="#000" text-anchor="middle" stroke="#000" stroke-width="0.2">300</text>
<line x1="253.15" y1="218.20" x2="254.95000000000002" y2="218.20" stroke="#737373" stroke-width="0.9"/>
<text x="251.4" y="221.30" font-family="'Liberation Sans', Arial, sans-serif" font-weight="bold" font-style="normal" font-size="9.5" fill="#000" text-anchor="end" textLength="4.95" lengthAdjust="spacingAndGlyphs" stroke="#000" stroke-width="0.2">0</text>
<line x1="253.15" y1="201.70" x2="254.95000000000002" y2="201.70" stroke="#737373" stroke-width="0.9"/>
<text x="251.4" y="204.80" font-family="'Liberation Sans', Arial, sans-serif" font-weight="bold" font-style="normal" font-size="9.5" fill="#000" text-anchor="end" textLength="4.95" lengthAdjust="spacingAndGlyphs" stroke="#000" stroke-width="0.2">5</text>
<line x1="253.15" y1="185.20" x2="254.95000000000002" y2="185.20" stroke="#737373" stroke-width="0.9"/>
<text x="251.4" y="188.30" font-family="'Liberation Sans', Arial, sans-serif" font-weight="bold" font-style="normal" font-size="9.5" fill="#000" text-anchor="end" textLength="9.90" lengthAdjust="spacingAndGlyphs" stroke="#000" stroke-width="0.2">10</text>
<line x1="253.15" y1="168.70" x2="254.95000000000002" y2="168.70" stroke="#737373" stroke-width="0.9"/>
<text x="251.4" y="171.80" font-family="'Liberation Sans', Arial, sans-serif" font-weight="bold" font-style="normal" font-size="9.5" fill="#000" text-anchor="end" textLength="9.90" lengthAdjust="spacingAndGlyphs" stroke="#000" stroke-width="0.2">15</text>
<line x1="253.15" y1="152.20" x2="254.95000000000002" y2="152.20" stroke="#737373" stroke-width="0.9"/>
<text x="251.4" y="155.30" font-family="'Liberation Sans', Arial, sans-serif" font-weight="bold" font-style="normal" font-size="9.5" fill="#000" text-anchor="end" textLength="9.90" lengthAdjust="spacingAndGlyphs" stroke="#000" stroke-width="0.2">20</text>
<line x1="253.15" y1="135.70" x2="254.95000000000002" y2="135.70" stroke="#737373" stroke-width="0.9"/>
<text x="251.4" y="138.80" font-family="'Liberation Sans', Arial, sans-serif" font-weight="bold" font-style="normal" font-size="9.5" fill="#000" text-anchor="end" textLength="9.90" lengthAdjust="spacingAndGlyphs" stroke="#000" stroke-width="0.2">25</text>
<text transform="translate(232.85,176.35) rotate(-90)" x="0" y="3.37" font-family="'Liberation Sans', Arial, sans-serif" font-weight="bold" font-size="9.8" text-anchor="middle" textLength="58.2" lengthAdjust="spacingAndGlyphs" stroke="#000" stroke-width="0.25">M (emu/gm)</text>
<text x="298.5" y="247.6" font-family="'Liberation Sans', Arial, sans-serif" font-weight="bold" font-style="normal" font-size="11.8" fill="#000" text-anchor="start" textLength="28.0" lengthAdjust="spacingAndGlyphs" stroke="#000" stroke-width="0.3">T (K)</text>
<path d="M256.80,153.30 C258.17,153.35 261.83,153.55 265.00,153.60 C268.17,153.65 272.47,153.70 275.80,153.60 C279.13,153.50 282.35,153.27 285.00,153.00 C287.65,152.73 289.20,152.58 291.70,152.00 C294.20,151.42 297.28,150.33 300.00,149.50 C302.72,148.67 305.25,147.87 308.00,147.00 C310.75,146.13 313.83,145.27 316.50,144.30 C319.17,143.33 321.12,142.10 324.00,141.20 C326.88,140.30 329.52,139.60 333.80,138.90 C338.08,138.20 345.20,137.07 349.70,137.00 C354.20,136.93 358.08,137.67 360.80,138.50 C363.52,139.33 364.78,140.55 366.00,142.00 C367.22,143.45 367.75,146.33 368.10,147.20" fill="none" stroke="#000" stroke-width="3.3" stroke-linecap="round" stroke-linejoin="round" />
<path d="M256.80,153.30 C258.17,153.35 261.83,153.55 265.00,153.60 C268.17,153.65 272.47,153.70 275.80,153.60 C279.13,153.50 282.35,153.27 285.00,153.00 C287.65,152.73 289.20,152.58 291.70,152.00 C294.20,151.42 297.28,150.33 300.00,149.50 C302.72,148.67 305.25,147.87 308.00,147.00 C310.75,146.13 315.08,144.75 316.50,144.30" fill="none" stroke="#ff0000" stroke-width="2.5" stroke-linecap="round" stroke-linejoin="round" />
<circle cx="368.30" cy="147.40" r="1.2" fill="#f0e448" stroke="#333" stroke-width="0.5"/>
<path d="M316.20,145.00 L316.20,219.30" fill="none" stroke="#f46a6a" stroke-width="2.0" stroke-linecap="round" stroke-linejoin="round" />
<path d="M316.00,219.50 L357.80,219.40 L360.00,218.40 L369.20,218.30" fill="none" stroke="#ff0000" stroke-width="3.0" stroke-linecap="round" stroke-linejoin="round" />
<path d="M319.80,199.00 C319.83,200.00 319.92,203.23 320.00,205.00 C320.08,206.77 320.03,208.27 320.30,209.60 C320.57,210.93 320.82,212.20 321.60,213.00 C322.38,213.80 323.43,214.13 325.00,214.40 C326.57,214.67 328.97,214.57 331.00,214.60 C333.03,214.63 336.17,214.60 337.20,214.60" fill="none" stroke="#ff0000" stroke-width="1.0" stroke-linecap="round" stroke-linejoin="round" />
<path d="M338.10,214.60 L334.30,216.10 L335.20,214.60 L334.30,213.10 Z" fill="#ff0000"/>
<path d="M358.40,149.60 C358.12,149.05 357.62,147.17 356.70,146.30 C355.78,145.43 354.97,144.85 352.90,144.40 C350.83,143.95 347.25,143.62 344.30,143.60 C341.35,143.58 336.72,144.18 335.20,144.30" fill="none" stroke="#000" stroke-width="1.0" stroke-linecap="round" stroke-linejoin="round" />
<path d="M334.30,144.37 L337.98,142.58 L337.19,144.15 L338.21,145.57 Z" fill="#000"/>
<path d="M254.20,192.20 L268.00,192.20" fill="none" stroke="#1e1e1e" stroke-width="1.25" stroke-linecap="round" stroke-linejoin="round" />
<circle cx="261.30" cy="192.20" r="2.0" fill="#f5ea3c" stroke="#1a1a50" stroke-width="0.65"/>
<path d="M254.20,199.80 L268.00,199.80" fill="none" stroke="#ff2020" stroke-width="1.25" stroke-linecap="round" stroke-linejoin="round" />
<circle cx="261.30" cy="199.80" r="1.7" fill="#ff0000" stroke="#ff0000" stroke-width="0.2"/>
<text x="269.5" y="194.3" font-family="'Liberation Sans', Arial, sans-serif" font-weight="bold" font-style="normal" font-size="5.9" fill="#000" text-anchor="start" stroke="#000" stroke-width="0.15">Cooling in 10 kOe</text>
<text x="269.5" y="202.0" font-family="'Liberation Sans', Arial, sans-serif" font-weight="bold" font-style="normal" font-size="5.9" fill="#000" text-anchor="start" stroke="#000" stroke-width="0.15">Heating in 0 Oe</text>
<text x="281.2" y="178.2" font-family="'Liberation Serif', 'Times New Roman', serif" font-weight="bold" font-style="normal" font-size="7.6" fill="#0000ff" text-anchor="start" >B2</text>
<text x="332.20" y="182.6" font-family="'Liberation Serif', 'Times New Roman', serif" font-weight="bold" font-style="normal" font-size="9.4" fill="#0000ff" text-anchor="start" textLength="6.2" lengthAdjust="spacingAndGlyphs" >H</text>
<text x="340.62" y="182.60" font-family="'Liberation Serif', 'Times New Roman', serif" font-weight="normal" font-size="8.8" fill="#0000ff" stroke="#0000ff" stroke-width="0.9" opacity="0.42" letter-spacing="0.64">||</text>
<text x="346.50" y="182.6" font-family="'Liberation Serif', 'Times New Roman', serif" font-weight="bold" font-style="normal" font-size="9.6" fill="#0000ff" text-anchor="start" >c</text>
<text x="325.0" y="209.6" font-family="'Liberation Serif', 'Times New Roman', serif" font-weight="bold" font-style="normal" font-size="7.0" fill="#ff0000" text-anchor="start" textLength="10.9" lengthAdjust="spacingAndGlyphs" stroke="#f00" stroke-width="0.15">ZFH</text>
<text x="344.9" y="153.9" font-family="'Liberation Serif', 'Times New Roman', serif" font-weight="bold" font-style="normal" font-size="7.5" fill="#000" text-anchor="start" textLength="8.8" lengthAdjust="spacingAndGlyphs" stroke="#000" stroke-width="0.25">FC</text>
<text x="259.4" y="221.7" font-family="'Liberation Serif', 'Times New Roman', serif" font-weight="bold" font-style="normal" font-size="8.8" fill="#000" text-anchor="start" stroke="#000" stroke-width="0.25">(d)</text>
</svg>
</body></html>
